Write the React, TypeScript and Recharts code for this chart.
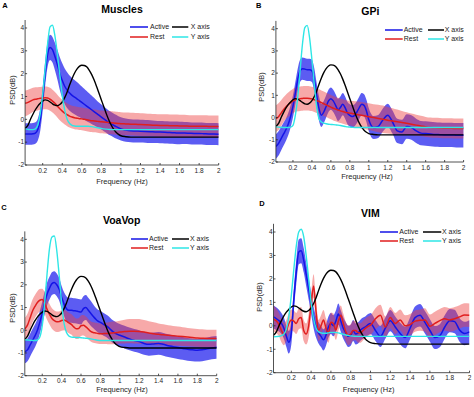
import React from 'react';
import { ComposedChart, Area, Line, XAxis, YAxis, Legend } from 'recharts';

// Frequency grid (Hz) shared by every panel
const freq = [
  0.02, 0.05, 0.075, 0.1, 0.125, 0.15, 0.175, 0.2, 0.225, 0.25,
  0.275, 0.3, 0.325, 0.35, 0.375, 0.4, 0.425, 0.45, 0.475, 0.5,
  0.525, 0.55, 0.575, 0.6, 0.625, 0.65, 0.675, 0.7, 0.725, 0.75,
  0.775, 0.8, 0.825, 0.85, 0.875, 0.9, 0.925, 0.95, 0.975, 1.0,
  1.05, 1.1, 1.15, 1.2, 1.25, 1.3, 1.35, 1.4, 1.45, 1.5,
  1.55, 1.6, 1.65, 1.7, 1.75, 1.8, 1.85, 1.9, 1.95, 2.0,
];

const freqTicks = [0.2, 0.4, 0.6, 0.8, 1, 1.2, 1.4, 1.6, 1.8, 2];
const psdTicks = [-2, -1, 0, 1, 2, 3, 4];

// Accelerometer X axis PSD (dB)
const xAxisPsd = [
  -0.4, -0.25, 0.0, 0.22, 0.42, 0.58, 0.7, 0.8, 0.85, 0.83,
  0.76, 0.68, 0.62, 0.6, 0.65, 0.76, 0.95, 1.2, 1.5, 1.78,
  2.02, 2.2, 2.32, 2.37, 2.36, 2.3, 2.16, 1.97, 1.73, 1.45,
  1.15, 0.85, 0.55, 0.25, -0.02, -0.25, -0.43, -0.57, -0.66, -0.72,
  -0.76, -0.78, -0.78, -0.78, -0.78, -0.78, -0.78, -0.78, -0.78, -0.78,
  -0.78, -0.78, -0.78, -0.78, -0.78, -0.78, -0.78, -0.78, -0.78, -0.78,
];

// ---------- A: Muscles ----------
const activeA = [
  -0.64, -0.64, -0.64, -0.63, -0.6, -0.45, 0.0, 0.9, 2.0, 2.85,
  3.15, 3.05, 2.75, 2.4, 2.0, 1.7, 1.45, 1.28, 1.15, 1.05,
  0.97, 0.9, 0.82, 0.74, 0.66, 0.58, 0.5, 0.42, 0.34, 0.26,
  0.18, 0.1, 0.02, -0.06, -0.14, -0.2, -0.26, -0.32, -0.37, -0.42,
  -0.47, -0.5, -0.51, -0.52, -0.53, -0.54, -0.55, -0.56, -0.57, -0.58,
  -0.59, -0.6, -0.6, -0.61, -0.62, -0.62, -0.63, -0.64, -0.64, -0.65,
];
const activeSemA = [
  0.47, 0.47, 0.47, 0.47, 0.47, 0.48, 0.5, 0.52, 0.54, 0.55,
  0.55, 0.56, 0.6, 0.66, 0.72, 0.76, 0.78, 0.78, 0.77, 0.76,
  0.75, 0.74, 0.72, 0.7, 0.68, 0.66, 0.64, 0.62, 0.6, 0.58,
  0.56, 0.55, 0.54, 0.53, 0.53, 0.52, 0.52, 0.52, 0.51, 0.51,
  0.51, 0.5, 0.5, 0.5, 0.5, 0.5, 0.49, 0.49, 0.49, 0.49,
  0.49, 0.49, 0.48, 0.48, 0.48, 0.48, 0.48, 0.48, 0.48, 0.48,
];
const restA = [
  0.7, 0.74, 0.8, 0.85, 0.88, 0.9, 0.92, 0.93, 0.94, 0.93,
  0.88, 0.8, 0.7, 0.58, 0.46, 0.36, 0.27, 0.2, 0.14, 0.1,
  0.07, 0.05, 0.03, 0.02, 0.0, -0.02, -0.04, -0.06, -0.07, -0.08,
  -0.1, -0.11, -0.12, -0.13, -0.14, -0.15, -0.16, -0.17, -0.18, -0.19,
  -0.2, -0.21, -0.22, -0.23, -0.24, -0.25, -0.26, -0.27, -0.27, -0.28,
  -0.28, -0.29, -0.29, -0.3, -0.3, -0.3, -0.3, -0.31, -0.31, -0.31,
];
const restSemA = [
  0.56, 0.55, 0.54, 0.53, 0.52, 0.51, 0.5, 0.5, 0.5, 0.5,
  0.5, 0.5, 0.5, 0.5, 0.5, 0.5, 0.5, 0.5, 0.5, 0.5,
  0.5, 0.5, 0.5, 0.5, 0.5, 0.5, 0.5, 0.5, 0.5, 0.5,
  0.5, 0.5, 0.5, 0.5, 0.5, 0.5, 0.5, 0.5, 0.5, 0.5,
  0.5, 0.5, 0.5, 0.5, 0.5, 0.49, 0.49, 0.49, 0.49, 0.49,
  0.49, 0.49, 0.49, 0.48, 0.48, 0.48, 0.48, 0.48, 0.48, 0.48,
];
const yAxisA = [
  -0.42, -0.44, -0.45, -0.45, -0.42, -0.25, 0.25, 1.1, 2.2, 3.3,
  4.05, 4.12, 3.65, 2.85, 1.95, 1.05, 0.4, 0.0, -0.18, -0.26,
  -0.29, -0.3, -0.3, -0.3, -0.3, -0.3, -0.31, -0.32, -0.34, -0.36,
  -0.38, -0.4, -0.42, -0.43, -0.44, -0.45, -0.45, -0.45, -0.45, -0.45,
  -0.45, -0.45, -0.45, -0.45, -0.45, -0.45, -0.45, -0.45, -0.45, -0.45,
  -0.45, -0.45, -0.45, -0.45, -0.45, -0.45, -0.45, -0.45, -0.45, -0.45,
];

// ---------- B: GPi ----------
const activeB = [
  -1.3, -1.15, -0.95, -0.75, -0.55, -0.3, 0.05, 0.5, 1.1, 1.7,
  2.1, 2.2, 2.18, 2.15, 2.15, 2.1, 1.7, 1.0, 0.4, 0.1,
  0.25, 0.5, 0.75, 0.85, 0.75, 0.55, 0.35, 0.45, 0.6, 0.45,
  0.2, 0.1, 0.05, 0.1, 0.25, 0.45, 0.6, 0.55, 0.3, -0.1,
  -0.45, -0.4, -0.1, 0.1, -0.2, -0.6, -0.65, -0.4, -0.45, -0.6,
  -0.7, -0.72, -0.74, -0.76, -0.77, -0.78, -0.78, -0.79, -0.8, -0.8,
];
const activeSemB = [
  0.55, 0.55, 0.53, 0.52, 0.5, 0.5, 0.5, 0.5, 0.5, 0.5,
  0.5, 0.5, 0.5, 0.5, 0.5, 0.5, 0.52, 0.55, 0.55, 0.52,
  0.5, 0.5, 0.5, 0.5, 0.5, 0.5, 0.5, 0.5, 0.5, 0.5,
  0.5, 0.5, 0.5, 0.5, 0.5, 0.5, 0.5, 0.5, 0.5, 0.52,
  0.52, 0.52, 0.52, 0.52, 0.52, 0.55, 0.55, 0.55, 0.55, 0.55,
  0.55, 0.55, 0.55, 0.55, 0.55, 0.55, 0.55, 0.55, 0.55, 0.55,
];
const restB = [
  -0.05, 0.05, 0.2, 0.35, 0.48, 0.58, 0.67, 0.74, 0.8, 0.83,
  0.85, 0.86, 0.87, 0.87, 0.86, 0.84, 0.8, 0.76, 0.72, 0.67,
  0.62, 0.57, 0.52, 0.47, 0.42, 0.38, 0.34, 0.3, 0.27, 0.24,
  0.22, 0.2, 0.18, 0.16, 0.14, 0.12, 0.1, 0.08, 0.06, 0.04,
  0.0, -0.04, -0.08, -0.12, -0.16, -0.19, -0.22, -0.26, -0.3, -0.34,
  -0.38, -0.42, -0.45, -0.46, -0.47, -0.48, -0.48, -0.49, -0.49, -0.49,
];
const restSemB = [
  0.6, 0.6, 0.58, 0.56, 0.55, 0.55, 0.55, 0.55, 0.55, 0.55,
  0.55, 0.55, 0.55, 0.55, 0.55, 0.55, 0.55, 0.55, 0.55, 0.55,
  0.55, 0.55, 0.55, 0.55, 0.55, 0.55, 0.55, 0.55, 0.55, 0.55,
  0.55, 0.55, 0.56, 0.57, 0.58, 0.59, 0.6, 0.6, 0.6, 0.6,
  0.6, 0.62, 0.62, 0.6, 0.58, 0.55, 0.52, 0.5, 0.48, 0.47,
  0.46, 0.45, 0.45, 0.45, 0.45, 0.45, 0.45, 0.45, 0.45, 0.45,
];
const yAxisB = [
  -0.42, -0.43, -0.44, -0.45, -0.45, -0.45, -0.43, -0.35, 0.1, 0.9,
  2.1, 3.3, 4.05, 4.15, 3.6, 2.6, 1.5, 0.5, -0.05, -0.2,
  -0.25, -0.28, -0.3, -0.31, -0.32, -0.33, -0.34, -0.36, -0.38, -0.4,
  -0.42, -0.43, -0.44, -0.45, -0.45, -0.45, -0.45, -0.45, -0.45, -0.45,
  -0.45, -0.45, -0.45, -0.45, -0.45, -0.45, -0.45, -0.45, -0.45, -0.45,
  -0.45, -0.45, -0.45, -0.45, -0.45, -0.45, -0.45, -0.45, -0.45, -0.45,
];

// ---------- C: VoaVop ----------
const activeC = [
  -0.95, -0.85, -0.65, -0.45, -0.25, 0.0, 0.35, 0.75, 1.2, 1.6,
  1.85, 2.05, 2.1, 2.0, 1.8, 1.45, 1.15, 0.95, 0.88, 0.88,
  0.86, 0.85, 0.82, 0.8, 0.95, 1.0, 0.88, 0.75, 0.62, 0.5,
  0.4, 0.35, 0.28, 0.22, 0.15, 0.05, -0.05, -0.12, -0.18, -0.22,
  -0.3, -0.38, -0.45, -0.5, -0.58, -0.62, -0.6, -0.58, -0.62, -0.68,
  -0.72, -0.76, -0.8, -0.84, -0.86, -0.88, -0.86, -0.82, -0.78, -0.75,
];
const activeSemC = [
  0.5, 0.5, 0.5, 0.5, 0.5, 0.5, 0.5, 0.5, 0.5, 0.5,
  0.5, 0.5, 0.5, 0.5, 0.5, 0.5, 0.52, 0.55, 0.55, 0.55,
  0.55, 0.55, 0.55, 0.55, 0.55, 0.55, 0.55, 0.55, 0.52, 0.5,
  0.5, 0.5, 0.5, 0.5, 0.5, 0.5, 0.5, 0.5, 0.5, 0.5,
  0.5, 0.5, 0.5, 0.5, 0.5, 0.5, 0.5, 0.5, 0.5, 0.5,
  0.5, 0.5, 0.5, 0.5, 0.5, 0.5, 0.5, 0.5, 0.5, 0.5,
];
const restC = [
  0.05, 0.25, 0.55, 0.85, 1.05, 1.22, 1.32, 1.35, 1.2, 0.92,
  0.7, 0.52, 0.42, 0.37, 0.38, 0.43, 0.45, 0.4, 0.32, 0.26,
  0.15, 0.07, 0.08, 0.2, 0.22, 0.15, 0.05, -0.05, -0.1, -0.12,
  -0.14, -0.15, -0.15, -0.14, -0.14, -0.13, -0.12, -0.11, -0.1, -0.08,
  -0.06, -0.04, -0.04, -0.05, -0.08, -0.12, -0.15, -0.18, -0.2, -0.22,
  -0.24, -0.26, -0.28, -0.3, -0.32, -0.34, -0.35, -0.36, -0.36, -0.36,
];
const restSemC = [
  0.5, 0.5, 0.5, 0.5, 0.5, 0.5, 0.5, 0.48, 0.47, 0.46,
  0.45, 0.45, 0.45, 0.45, 0.45, 0.45, 0.45, 0.45, 0.45, 0.45,
  0.45, 0.45, 0.45, 0.45, 0.45, 0.45, 0.45, 0.45, 0.45, 0.45,
  0.45, 0.45, 0.46, 0.47, 0.48, 0.49, 0.5, 0.5, 0.5, 0.5,
  0.52, 0.53, 0.54, 0.54, 0.53, 0.52, 0.5, 0.48, 0.46, 0.44,
  0.43, 0.42, 0.41, 0.4, 0.4, 0.39, 0.39, 0.38, 0.38, 0.38,
];
const yAxisC = [
  -0.42, -0.43, -0.44, -0.45, -0.45, -0.43, -0.3, 0.2, 1.2, 2.5,
  3.6, 4.1, 4.15, 3.5, 2.4, 1.2, 0.3, -0.1, -0.25, -0.3,
  -0.31, -0.32, -0.32, -0.33, -0.34, -0.35, -0.36, -0.38, -0.4, -0.42,
  -0.44, -0.45, -0.45, -0.45, -0.45, -0.45, -0.45, -0.45, -0.45, -0.45,
  -0.45, -0.45, -0.45, -0.45, -0.45, -0.45, -0.45, -0.45, -0.45, -0.45,
  -0.45, -0.45, -0.45, -0.45, -0.45, -0.45, -0.45, -0.45, -0.45, -0.45,
];

// ---------- D: VIM ----------
const activeD = [
  0.38, 0.3, 0.22, 0.1, -0.1, -0.45, -0.7, -0.3, 1.1, 2.3,
  3.15, 3.2, 2.8, 2.2, 1.6, 0.95, 0.35, -0.05, -0.3, -0.45,
  -0.6, -0.4, -0.05, 0.1, 0.0, 0.2, 0.5, 0.2, -0.1, -0.3,
  -0.45, -0.4, -0.2, -0.35, -0.3, -0.18, -0.1, -0.04, 0.05, 0.1,
  -0.2, -0.45, -0.1, 0.22, -0.05, -0.33, -0.5, -0.1, 0.35, 0.45,
  0.15, -0.2, -0.5, -0.42, -0.05, 0.22, 0.18, -0.18, -0.33, -0.26,
];
const activeSemD = [
  0.5, 0.48, 0.46, 0.45, 0.45, 0.45, 0.48, 0.5, 0.5, 0.52,
  0.53, 0.53, 0.52, 0.5, 0.48, 0.45, 0.45, 0.45, 0.45, 0.45,
  0.45, 0.45, 0.45, 0.45, 0.45, 0.45, 0.45, 0.45, 0.45, 0.45,
  0.45, 0.45, 0.45, 0.45, 0.45, 0.45, 0.45, 0.45, 0.45, 0.45,
  0.45, 0.45, 0.45, 0.45, 0.45, 0.46, 0.46, 0.47, 0.47, 0.48,
  0.48, 0.48, 0.49, 0.49, 0.5, 0.5, 0.5, 0.5, 0.5, 0.5,
];
const restD = [
  0.3, 0.2, 0.05, -0.2, -0.35, -0.2, 0.1, 0.25, 0.2, 0.1,
  0.3, 0.35, -0.2, -0.35, 0.0, 0.9, 1.7, 0.6, -0.2, 0.0,
  0.25, -0.1, -0.3, 0.15, 0.1, -0.18, 0.2, 0.45, 0.1, -0.25,
  -0.4, -0.35, -0.2, -0.2, -0.3, -0.3, -0.2, -0.1, -0.02, 0.03,
  0.3, 0.45, -0.05, 0.35, 0.1, 0.25, 0.0, 0.05, 0.2, 0.24,
  0.25, -0.02, 0.1, 0.22, 0.3, 0.25, 0.3, 0.38, 0.46, 0.45,
];
const restSemD = [
  0.55, 0.52, 0.5, 0.5, 0.48, 0.45, 0.45, 0.45, 0.45, 0.45,
  0.45, 0.45, 0.45, 0.45, 0.5, 0.5, 0.5, 0.5, 0.45, 0.45,
  0.42, 0.42, 0.42, 0.42, 0.42, 0.42, 0.42, 0.42, 0.42, 0.42,
  0.42, 0.42, 0.42, 0.42, 0.42, 0.42, 0.42, 0.42, 0.42, 0.42,
  0.45, 0.45, 0.45, 0.45, 0.45, 0.45, 0.45, 0.45, 0.45, 0.45,
  0.5, 0.5, 0.5, 0.5, 0.5, 0.5, 0.5, 0.5, 0.5, 0.5,
];
const yAxisD = [
  -0.47, -0.46, -0.45, -0.42, -0.35, -0.15, 0.4, 1.3, 2.4, 3.4,
  4.0, 4.12, 3.8, 3.0, 2.0, 1.0, 0.3, -0.1, -0.25, -0.3,
  -0.32, -0.32, -0.3, -0.28, -0.28, -0.29, -0.3, -0.33, -0.36, -0.39,
  -0.41, -0.43, -0.44, -0.45, -0.45, -0.45, -0.45, -0.45, -0.45, -0.45,
  -0.45, -0.45, -0.45, -0.45, -0.45, -0.45, -0.45, -0.45, -0.45, -0.45,
  -0.45, -0.45, -0.45, -0.45, -0.45, -0.45, -0.45, -0.45, -0.45, -0.45,
];

const FONT = '"Liberation Sans", Arial, Helvetica, sans-serif';
const ACTIVE_LINE = '#1414e6';
const ACTIVE_FILL = '#4646f0';
const REST_LINE = '#e01e1e';
const REST_FILL = '#ee4040';
const X_LINE = '#000000';
const Y_LINE = '#2ee6e6';
const AXIS = '#262626';

function buildRows(
  active: number[], activeSem: number[],
  rest: number[], restSem: number[],
  xs: number[], ys: number[],
) {
  return freq.map((f, i) => ({
    f,
    active: active[i],
    activeBand: [active[i] - activeSem[i], active[i] + activeSem[i]],
    rest: rest[i],
    restBand: [rest[i] - restSem[i], rest[i] + restSem[i]],
    xAxis: xs[i],
    yAxis: ys[i],
  }));
}

type Pt = [number, number];
type LegendPos = { rows: [number, number]; cols: [number, number, number][] };
type PanelSpec = {
  x: number; y: number; w: number; h: number;
  plot: { left: number; top: number; right: number; bottom: number };
  rows: ReturnType<typeof buildRows>;
  title: string; letter: string;
  titleAt: Pt; letterAt: Pt; yLabelAt: Pt; xLabelAt: Pt;
  legend: LegendPos;
};

const legendItems = [
  { name: 'Active', color: ACTIVE_LINE, row: 0, col: 0 },
  { name: 'X axis', color: X_LINE, row: 0, col: 1 },
  { name: 'Rest', color: REST_LINE, row: 1, col: 0 },
  { name: 'Y axis', color: Y_LINE, row: 1, col: 1 },
];

function LegendKey({ pos }: { pos: LegendPos }) {
  return (
    <div style={{ position: 'absolute', left: 0, top: 0, width: 0, height: 0 }}>
      {legendItems.map((it) => {
        const yy = pos.rows[it.row];
        const [x0, x1, tx] = pos.cols[it.col];
        return (
          <React.Fragment key={it.name}>
            <svg
              width={x1 - x0} height={4}
              style={{ position: 'absolute', left: x0, top: yy - 2, overflow: 'visible' }}
            >
              <line x1={0} y1={2} x2={x1 - x0} y2={2} stroke={it.color} strokeWidth={1.5} />
            </svg>
            <div style={{ position: 'absolute', left: tx, top: yy - 4.2, fontFamily: FONT, fontSize: 7, lineHeight: '8px', color: '#1a1a1a', whiteSpace: 'nowrap' }}>
              {it.name}
            </div>
          </React.Fragment>
        );
      })}
    </div>
  );
}

function Txt({ at, children, size, bold, rotate }: { at: Pt; children: React.ReactNode; size: number; bold?: boolean; rotate?: boolean }) {
  return (
    <div
      style={{
        position: 'absolute', left: at[0], top: at[1],
        transform: `translate(-50%, -50%)${rotate ? ' rotate(-90deg)' : ''}`,
        fontFamily: FONT, fontSize: size, fontWeight: bold ? 700 : 400,
        lineHeight: 1, whiteSpace: 'nowrap', color: bold ? '#000' : '#262626',
      }}
    >
      {children}
    </div>
  );
}

const tickStyle = { fontSize: 6.5, fill: AXIS, fontFamily: FONT };

function Panel({ s }: { s: PanelSpec }) {
  const { left, top, right, bottom } = s.plot;
  return (
    <div style={{ position: 'absolute', left: s.x, top: s.y, width: s.w, height: s.h }}>
      <ComposedChart
        width={s.w} height={s.h} data={s.rows}
        margin={{ top, right: s.w - right, bottom: 0, left: 0 }}
      >
        <XAxis
          type="number" dataKey="f" domain={[0.02, 2]} ticks={freqTicks} allowDataOverflow
          height={s.h - bottom} tickSize={-2} tickMargin={5} tick={tickStyle}
          stroke={AXIS} strokeWidth={0.8}
        />
        <YAxis
          type="number" domain={[-2, 4.35]} ticks={psdTicks} allowDataOverflow
          width={left} tickSize={-2} tickMargin={3} tick={tickStyle}
          stroke={AXIS} strokeWidth={0.8}
        />
        <Area dataKey="activeBand" type="monotone" stroke="none" fill={ACTIVE_FILL} fillOpacity={0.88} isAnimationActive={false} />
        <Line dataKey="active" type="monotone" stroke={ACTIVE_LINE} strokeWidth={1.5} dot={false} isAnimationActive={false} />
        <Area dataKey="restBand" type="monotone" stroke="none" fill={REST_FILL} fillOpacity={0.45} isAnimationActive={false} />
        <Line dataKey="rest" type="monotone" stroke={REST_LINE} strokeWidth={1.5} dot={false} isAnimationActive={false} />
        <Line dataKey="xAxis" type="monotone" stroke={X_LINE} strokeWidth={1.4} dot={false} isAnimationActive={false} />
        <Line dataKey="yAxis" type="monotone" stroke={Y_LINE} strokeWidth={1.4} dot={false} isAnimationActive={false} />
        <Legend
          layout="horizontal" verticalAlign="middle" align="center"
          wrapperStyle={{ left: 0, top: 0, width: 0, height: 0 }}
          content={() => <LegendKey pos={s.legend} />}
        />
      </ComposedChart>
      <Txt at={s.letterAt} size={7.5} bold>{s.letter}</Txt>
      <Txt at={s.titleAt} size={10.5} bold>{s.title}</Txt>
      <Txt at={s.yLabelAt} size={7.5} rotate>PSD(dB)</Txt>
      <Txt at={s.xLabelAt} size={7.5}>Frequency (Hz)</Txt>
    </div>
  );
}

const panels: PanelSpec[] = [
  {
    x: 0, y: 0, w: 237, h: 197,
    plot: { left: 25.1, top: 20, right: 218.7, bottom: 165 },
    rows: buildRows(activeA, activeSemA, restA, restSemA, xAxisPsd, yAxisA),
    title: 'Muscles', letter: 'A',
    titleAt: [122, 8.5], letterAt: [5, 6], yLabelAt: [12.7, 90], xLabelAt: [122, 181.7],
    legend: { rows: [27.3, 36.7], cols: [[130, 148, 150], [171.7, 188, 190.7]] },
  },
  {
    x: 237, y: 0, w: 237, h: 197,
    plot: { left: 38.9, top: 20.9, right: 226.6, bottom: 162 },
    rows: buildRows(activeB, activeSemB, restB, restSemB, xAxisPsd, yAxisB),
    title: 'GPi', letter: 'B',
    titleAt: [133.3, 11], letterAt: [21.7, 6], yLabelAt: [25, 86.7], xLabelAt: [130, 176.7],
    legend: { rows: [30, 39.3], cols: [[148, 165.7, 166.7], [190.7, 206.7, 207.7]] },
  },
  {
    x: 0, y: 197, w: 237, h: 200,
    plot: { left: 24.8, top: 34.4, right: 216.7, bottom: 178.7 },
    rows: buildRows(activeC, activeSemC, restC, restSemC, xAxisPsd, yAxisC),
    title: 'VoaVop', letter: 'C',
    titleAt: [121.7, 23.3], letterAt: [4, 11], yLabelAt: [12.7, 110.7], xLabelAt: [122, 193.3],
    legend: { rows: [41.7, 51], cols: [[130.7, 147.7, 149], [172, 189, 190]] },
  },
  {
    x: 237, y: 197, w: 237, h: 200,
    plot: { left: 36.5, top: 26.8, right: 232.5, bottom: 175.7 },
    rows: buildRows(activeD, activeSemD, restD, restSemD, xAxisPsd, yAxisD),
    title: 'VIM', letter: 'D',
    titleAt: [133.3, 15.7], letterAt: [25, 6.7], yLabelAt: [22.7, 100], xLabelAt: [131.7, 192.7],
    legend: { rows: [35, 44.3], cols: [[143, 161, 162.3], [185.7, 204, 205]] },
  },
];

export default function App() {
  return (
    <div style={{ position: 'absolute', left: 0, top: 0, width: 474, height: 397, background: '#fff', overflow: 'hidden' }}>
      {panels.map((p) => (
        <Panel key={p.letter} s={p} />
      ))}
    </div>
  );
}
